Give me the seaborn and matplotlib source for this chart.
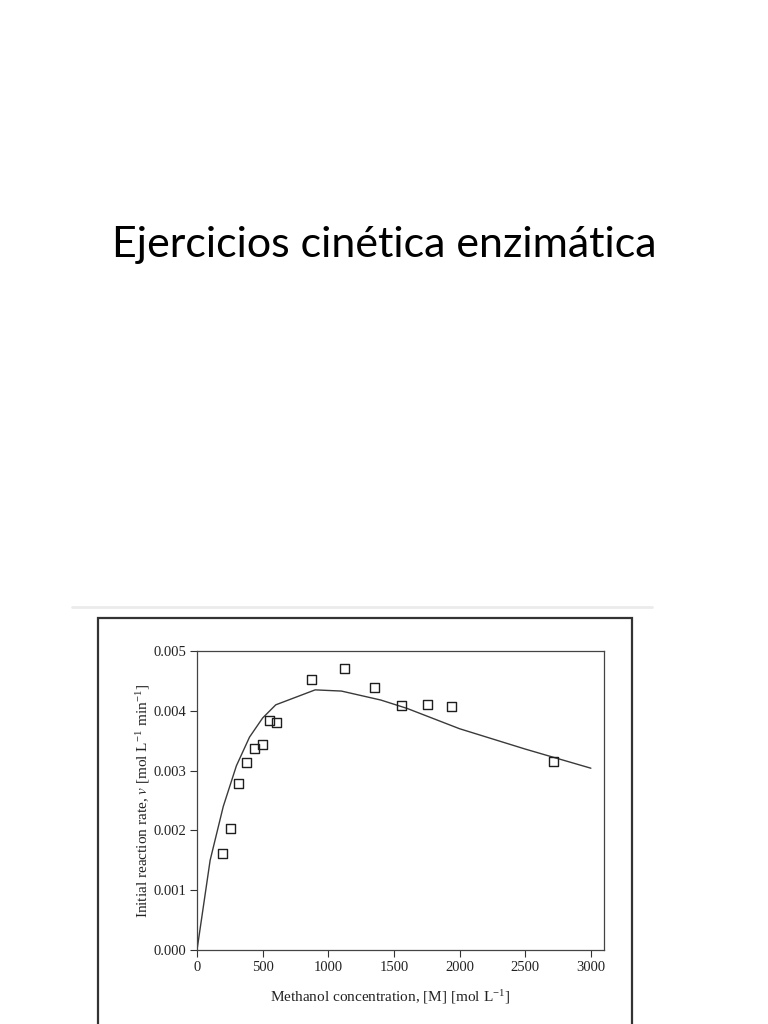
import matplotlib
matplotlib.use("Agg")
import matplotlib.pyplot as plt
import seaborn as sns
import pandas as pd
from matplotlib.lines import Line2D
from matplotlib.patches import Rectangle

# ---- data ----
meas_conc = [192, 253, 317, 378, 439, 500, 555, 609, 875, 1124, 1352, 1560, 1755, 1940, 2714]
meas_rate = [0.00161, 0.00204, 0.00279, 0.00313, 0.00337, 0.00343, 0.00383, 0.00381,
             0.00452, 0.00470, 0.00439, 0.00409, 0.00411, 0.00408, 0.00316]
fit_conc = [0, 100, 200, 300, 400, 500, 600, 900, 1100, 1400, 1600, 2000, 2500, 3000]
fit_rate = [0.0, 0.00150, 0.00240, 0.00308, 0.00356, 0.00388, 0.00410, 0.00435,
            0.00433, 0.00418, 0.00404, 0.00370, 0.00336, 0.00304]
x_ticks = [0, 500, 1000, 1500, 2000, 2500, 3000]
y_ticks = [0.000, 0.001, 0.002, 0.003, 0.004, 0.005]
y_tick_labels = ["0.000", "0.001", "0.002", "0.003", "0.004", "0.005"]
title = "Ejercicios cinética enzimática"

sns.set_theme(style="white")
plt.rcParams["font.family"] = ["Liberation Serif", "DejaVu Serif"]
plt.rcParams["mathtext.fontset"] = "stix"

W, H = 768, 1024
fig = plt.figure(figsize=(W / 100, H / 100), dpi=100)
fig.patch.set_facecolor("white")

def fx(px):
    return px / W

def fy(py):
    return 1 - py / H

# title
fig.text(fx(384), fy(245), title, ha="center", va="center",
         fontsize=31, family=["Lato", "DejaVu Sans"], color="black")

# light separator line
fig.add_artist(Line2D([fx(72), fx(652)], [fy(607), fy(607)], color="#ebebeb", lw=2.0))

# frame box
fig.add_artist(Rectangle((fx(98), fy(1040)), fx(632) - fx(98), fy(618) - fy(1040),
                         transform=fig.transFigure, fill=False, ec="#333333", lw=1.6, clip_on=False))

ax = fig.add_axes([fx(197), fy(950), (604 - 197) / W, (950 - 651) / H])

df_fit = pd.DataFrame({"conc": fit_conc, "rate": fit_rate})
df_meas = pd.DataFrame({"conc": meas_conc, "rate": meas_rate})

sns.lineplot(data=df_fit, x="conc", y="rate", ax=ax, color="#3a3a3a", lw=1.0)
sns.scatterplot(data=df_meas, x="conc", y="rate", ax=ax, marker="s", s=42,
                facecolor="none", edgecolor="#1e1e1e", linewidth=1.0, zorder=3)

ax.set_xlim(0, 3100)
ax.set_ylim(0, 0.005)
ax.set_xticks(x_ticks)
ax.set_xticklabels([str(t) for t in x_ticks])
ax.set_yticks(y_ticks)
ax.set_yticklabels(y_tick_labels)
ax.tick_params(axis="both", direction="out", length=5, width=0.8, color="#333333",
               labelsize=10.5, labelcolor="#222222", pad=3)
ax.tick_params(axis="both", which="both", bottom=True, left=True)
for sp in ax.spines.values():
    sp.set_visible(True)
    sp.set_color("#444444")
    sp.set_linewidth(0.9)

ax.set_xlabel(r"Methanol concentration, [M] [mol L$^{\mathregular{-1}}$]", fontsize=11, color="#222222")
ax.xaxis.set_label_coords(0.475, -0.125)
ax.set_ylabel(r"Initial reaction rate, $\it{v}$ [mol L$^{\mathregular{-1}}$ min$^{\mathregular{-1}}$]",
              fontsize=11, color="#222222", labelpad=1)

fig.savefig("out.png", dpi=100, facecolor="white")
